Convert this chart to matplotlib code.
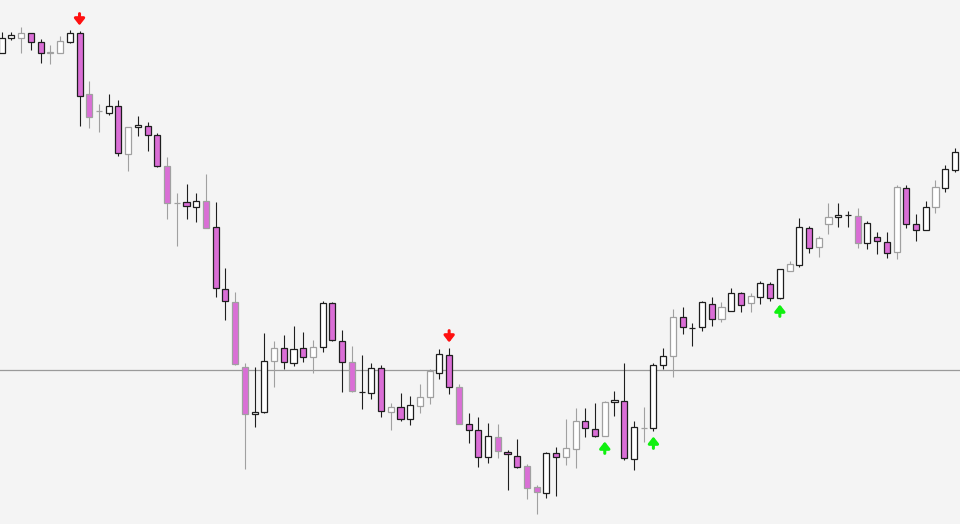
import numpy as np
import matplotlib
matplotlib.use('Agg')
import matplotlib.pyplot as plt

# precio en puntos (escala arbitraria)
opens = [471, 486, 486, 491, 482, 471, 471, 482, 491, 430,
         413, 411, 418, 370, 397, 398, 389, 358, 321, 322,
         317, 323, 297, 235, 222, 157, 110, 112, 163, 176,
         161, 176, 167, 177, 221, 183, 162, 132, 131, 156,
         112, 117, 105, 118, 127, 151, 169, 137, 100, 94,
         67, 87, 72, 68, 58, 37, 31, 71, 67, 75,
         103, 95, 88, 122, 123, 65, 96, 96, 159, 168,
         207, 196, 197, 220, 205, 213, 231, 221, 227, 240,
         226, 253, 259, 296, 277, 300, 307, 309, 308, 281,
         287, 282, 272, 336, 300, 294, 317, 336, 354]
highs = [492, 492, 497, 491, 485, 479, 488, 494, 493, 443,
         420, 430, 424, 397, 408, 402, 391, 367, 331, 340,
         331, 350, 322, 256, 232, 161, 157, 191, 183, 189,
         198, 192, 184, 223, 222, 194, 178, 169, 161, 159,
         121, 131, 128, 140, 155, 175, 176, 140, 111, 107,
         101, 100, 74, 85, 60, 39, 72, 77, 105, 116,
         116, 121, 123, 133, 161, 103, 117, 161, 176, 215,
         217, 201, 223, 227, 222, 236, 232, 231, 243, 242,
         255, 263, 306, 298, 288, 321, 321, 313, 316, 303,
         292, 292, 339, 339, 310, 323, 344, 359, 376]
lows = [471, 484, 471, 474, 461, 460, 471, 481, 398, 396,
        392, 409, 368, 353, 388, 373, 357, 305, 278, 305,
        302, 296, 227, 204, 159, 55, 97, 111, 137, 155,
        158, 162, 151, 172, 183, 132, 132, 115, 125, 107,
        94, 103, 99, 111, 120, 145, 130, 100, 81, 57,
        61, 66, 34, 56, 25, 10, 26, 28, 59, 56,
        87, 87, 88, 108, 64, 54, 82, 93, 155, 147,
        190, 178, 193, 198, 202, 213, 212, 212, 220, 223,
        225, 253, 257, 271, 267, 290, 297, 297, 276, 275,
        270, 266, 265, 296, 283, 294, 311, 332, 352]
closes = [486, 489, 491, 482, 471, 472, 483, 491, 428, 407,
          413, 418, 371, 397, 399, 389, 358, 321, 321, 318,
          323, 296, 236, 223, 160, 110, 112, 163, 176, 162,
          175, 167, 177, 221, 184, 162, 133, 132, 156, 113,
          117, 105, 119, 127, 153, 170, 137, 100, 94, 67,
          88, 73, 70, 57, 36, 32, 71, 67, 76, 103,
          96, 88, 122, 124, 66, 97, 96, 159, 168, 207,
          197, 196, 222, 205, 217, 231, 219, 228, 241, 226,
          255, 260, 297, 276, 286, 307, 309, 309, 281, 301,
          283, 271, 337, 300, 294, 317, 337, 355, 372]

# velas con contorno gris
faded = [2, 5, 6, 9, 10, 13, 17, 18, 21, 24, 25, 28, 32, 36, 40, 43, 44,
         47, 51, 54, 55, 58, 59, 62, 66, 69, 74, 77, 81, 84, 85, 88, 92, 96]

sell_signals = [8, 46]
buy_signals = [62, 67, 80]
level = 154.5


def plot_candles(ax, opens, highs, lows, closes, faded):
    """
    Dibuja las velas: cuerpo blanco si sube, violeta si baja.
    """
    x = np.arange(len(opens))
    o = np.array(opens)
    c = np.array(closes)
    up = c >= o
    edge = ['#a0a0a0' if i in faded else '#1e1e1e' for i in x]
    fill = np.where(up, '#ffffff', '#da6ed6')
    ax.vlines(x, lows, highs, colors=edge, linewidth=0.8, zorder=1)
    ax.bar(x, np.abs(c - o), bottom=np.minimum(o, c), width=0.62,
           color=fill, edgecolor=edge, linewidth=0.9, zorder=2)


def plot_signals(ax, idx, prices, color, direction):
    """
    Flechas de compra (abajo de la vela) y venta (arriba de la vela).
    """
    for i in idx:
        ax.annotate('', xy=(i, prices[i]), xytext=(0, 12.5 * direction),
                    textcoords='offset points',
                    arrowprops=dict(arrowstyle='-|>,head_length=0.38,head_width=0.3',
                                    color=color, lw=2.2, shrinkA=0, shrinkB=4,
                                    mutation_scale=10),
                    zorder=3)


fig = plt.figure(figsize=(9.6, 5.24), dpi=100)
fig.patch.set_facecolor('#f4f4f4')
ax = fig.add_axes([0, 0, 1, 1])
ax.set_facecolor('#f4f4f4')

ax.axhline(level, color='#9a9a9a', linewidth=0.9, zorder=0)
plot_candles(ax, opens, highs, lows, closes, faded)
plot_signals(ax, sell_signals, highs, '#ff1010', 1)
plot_signals(ax, buy_signals, lows, '#10f010', -1)

ax.set_xlim(-0.175, 98.52)
ax.set_ylim(0, 524)
ax.axis('off')

fig.savefig('out.png', dpi=100, facecolor=fig.get_facecolor())
